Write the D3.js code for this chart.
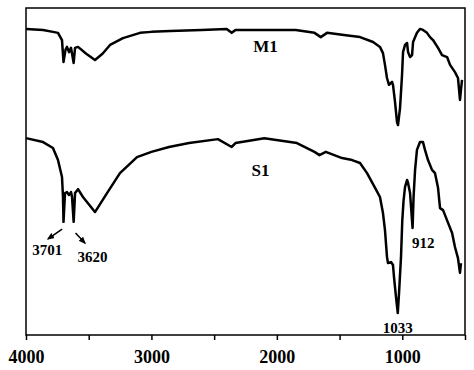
<!DOCTYPE html>
<html>
<head>
<meta charset="utf-8">
<script src="https://cdn.jsdelivr.net/npm/d3@7"></script>
<style>
  body { margin: 0; background: #fff; }
  text { font-family: "Liberation Serif", "Times New Roman", serif; font-weight: bold; fill: #000; }
</style>
</head>
<body>
<svg id="chart"></svg>
<script>
// wavenumber (cm-1) and transmittance (a.u.)
const m1Wave = [4000, 3864, 3785, 3745, 3713, 3701, 3685, 3673, 3657, 3641, 3620, 3609, 3585, 3520, 3450, 3390, 3330, 3227, 3091, 3000, 2850, 2600, 2400, 2360, 2330, 2100, 1850, 1700, 1650, 1600, 1450, 1337, 1233, 1178, 1154, 1138, 1122, 1106, 1082, 1074, 1058, 1042, 1034, 1018, 1002, 994, 978, 962, 954, 938, 922, 914, 883, 859, 835, 803, 779, 755, 715, 683, 643, 619, 580, 556, 540, 524];
const m1Trans = [93.6, 93.3, 92.7, 92.4, 90.2, 83.5, 87.2, 88.1, 86.5, 87.8, 83.2, 87.8, 88.1, 86.0, 84.1, 86.0, 88.7, 90.8, 92.4, 92.7, 93.0, 93.3, 93.6, 92.4, 93.3, 93.3, 93.3, 92.4, 91.1, 92.4, 91.7, 91.1, 89.6, 88.1, 86.2, 82.6, 78.6, 76.5, 77.4, 76.5, 71.3, 65.1, 64.2, 69.4, 79.5, 86.5, 88.7, 89.3, 86.5, 85.0, 85.6, 89.6, 92.4, 93.6, 93.3, 92.4, 91.1, 90.2, 87.8, 85.6, 85.0, 82.6, 80.4, 78.6, 71.9, 78.0];

const s1Wave = [4000, 3864, 3785, 3745, 3713, 3705, 3701, 3689, 3673, 3657, 3641, 3633, 3620, 3609, 3585, 3546, 3450, 3354, 3251, 3115, 3000, 2860, 2700, 2470, 2360, 2330, 2100, 1840, 1700, 1660, 1610, 1480, 1400, 1337, 1281, 1217, 1178, 1154, 1138, 1122, 1114, 1090, 1074, 1066, 1050, 1036, 1026, 1010, 1000, 990, 978, 962, 954, 938, 918, 910, 898, 883, 859, 835, 819, 795, 763, 739, 715, 699, 675, 635, 603, 580, 556, 540, 532];
const s1Trans = [60.2, 59.0, 57.2, 53.5, 48.3, 42.2, 34.6, 43.4, 43.7, 42.8, 43.7, 42.2, 34.6, 43.4, 44.6, 42.2, 37.6, 43.4, 49.5, 54.4, 56.0, 57.5, 58.7, 59.9, 57.5, 58.7, 60.2, 58.7, 56.0, 55.0, 56.0, 54.1, 53.5, 52.6, 49.5, 45.0, 42.2, 37.3, 32.1, 23.9, 22.0, 22.3, 21.4, 17.7, 11.6, 6.7, 12.8, 24.0, 35.0, 41.0, 45.3, 47.4, 46.5, 43.4, 32.7, 42.2, 50.5, 56.6, 59.0, 59.0, 56.6, 53.5, 50.5, 49.5, 45.0, 38.8, 38.2, 34.3, 31.2, 26.9, 23.5, 19.0, 22.0];

const xTicks = [4000, 3500, 3000, 2500, 2000, 1500, 1000, 500];
const seriesNames = ["M1", "S1"];

const svgWidth = 474, svgHeight = 370;
const margin = { left: 26, right: 465, top: 8, bottom: 335 };

const svg = d3.select("#chart").attr("width", svgWidth).attr("height", svgHeight);

const x = d3.scaleLinear().domain([4000, 500]).range([margin.left, margin.right]);
const y = d3.scaleLinear().domain([0, 100]).range([margin.bottom, margin.top]);

// frame
svg.append("rect")
  .attr("x", margin.left).attr("y", margin.top)
  .attr("width", margin.right - margin.left).attr("height", margin.bottom - margin.top)
  .attr("fill", "none").attr("stroke", "#000").attr("stroke-width", 1.5);

// bottom axis
const xAxis = d3.axisBottom(x)
  .tickValues(xTicks)
  .tickSize(5)
  .tickPadding(10)
  .tickFormat(d => d % 1000 === 0 ? d : "");

const axisG = svg.append("g")
  .attr("transform", "translate(0," + margin.bottom + ")")
  .call(xAxis);
axisG.select(".domain").remove();
axisG.selectAll("line").attr("stroke", "#000").attr("stroke-width", 1.5);
axisG.selectAll("text")
  .attr("font-size", 18)
  .attr("font-family", "Liberation Serif, serif")
  .attr("font-weight", "bold");

// spectra
const line = d3.line()
  .x(d => x(d[0]))
  .y(d => y(d[1]));

const series = [
  d3.zip(m1Wave, m1Trans),
  d3.zip(s1Wave, s1Trans)
];

svg.selectAll(".spec")
  .data(series)
  .enter().append("path")
  .attr("class", "spec")
  .attr("d", line)
  .attr("fill", "none")
  .attr("stroke", "#000")
  .attr("stroke-width", 2.5)
  .attr("stroke-linejoin", "round");

// series labels
svg.append("text").attr("x", x(2090)).attr("y", y(86.5))
  .attr("text-anchor", "middle").attr("font-size", 17).text(seriesNames[0]);
svg.append("text").attr("x", x(2130)).attr("y", y(48.5))
  .attr("text-anchor", "middle").attr("font-size", 17).text(seriesNames[1]);

// peak labels
const peakLabels = [
  { wn: 3701, tx: 3830, ty: 24.4 },
  { wn: 3620, tx: 3470, ty: 22.2 },
  { wn: 912, tx: 832, ty: 26.5 },
  { wn: 1033, tx: 1037, ty: 0.6 }
];
peakLabels.forEach(p => {
  svg.append("text")
    .attr("x", x(p.tx)).attr("y", y(p.ty))
    .attr("text-anchor", "middle").attr("font-size", 15)
    .text(p.wn);
});

// arrows
svg.append("defs").append("marker")
  .attr("id", "arr")
  .attr("viewBox", "0 0 10 10")
  .attr("refX", 8).attr("refY", 5)
  .attr("markerWidth", 5).attr("markerHeight", 5)
  .attr("orient", "auto")
  .append("path").attr("d", "M0,1 L10,5 L0,9 z").attr("fill", "#000");

const arrows = [
  [[3712, 32.4], [3824, 29.4]],
  [[3605, 31.2], [3530, 28.1]]
];
arrows.forEach(a => {
  svg.append("line")
    .attr("x1", x(a[0][0])).attr("y1", y(a[0][1]))
    .attr("x2", x(a[1][0])).attr("y2", y(a[1][1]))
    .attr("stroke", "#000").attr("stroke-width", 1.5)
    .attr("marker-end", "url(#arr)");
});
</script>
</body>
</html>
